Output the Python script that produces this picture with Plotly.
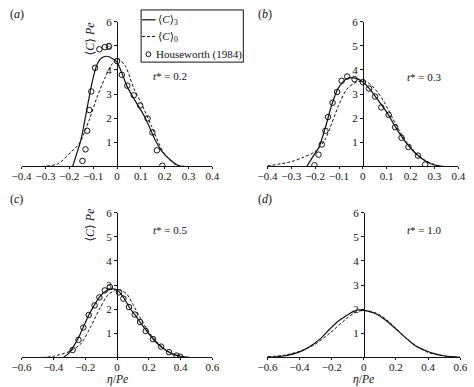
import plotly.graph_objects as go

W, H = 474, 387

# ---------------- data ----------------
# panel (a), t* = 0.2
a_c3_x = [-0.186, -0.17, -0.152, -0.125, -0.105, -0.085, -0.065, -0.042, -0.02, 0.0, 0.02, 0.043, 0.077, 0.117, 0.158, 0.185, 0.225, 0.26, 0.28]
a_c3_y = [0.0, 0.5, 1.07, 2.44, 3.46, 4.2, 4.5, 4.57, 4.48, 4.33, 3.88, 3.3, 2.71, 2.04, 1.14, 0.67, 0.26, 0.03, 0.0]
a_c0_x = [-0.315, -0.246, -0.193, -0.159, -0.118, -0.085, -0.051, -0.024, 0.003, 0.036, 0.07, 0.104, 0.144, 0.198, 0.25, 0.29]
a_c0_y = [0.0, 0.12, 0.6, 0.94, 1.89, 2.84, 3.66, 4.2, 4.48, 4.14, 3.25, 2.57, 1.69, 0.53, 0.05, 0.0]
a_hw_x = [-0.145, -0.132, -0.125, -0.116, -0.108, -0.092, -0.074, -0.051, -0.034, 0.0, 0.02, 0.043, 0.07, 0.097, 0.128, 0.148, 0.167, 0.19]
a_hw_y = [0.23, 0.71, 1.48, 2.34, 3.11, 4.09, 4.86, 4.95, 4.98, 4.37, 3.80, 3.35, 2.95, 2.53, 1.99, 1.41, 0.67, 0.03]

# panel (b), t* = 0.3
b_c3_x = [-0.235, -0.21, -0.184, -0.157, -0.13, -0.103, -0.069, -0.045, -0.02, 0.0, 0.03, 0.06, 0.1, 0.14, 0.18, 0.22, 0.26, 0.3, 0.335]
b_c3_y = [0.0, 0.4, 0.8, 1.62, 2.57, 3.25, 3.63, 3.68, 3.62, 3.5, 3.2, 2.8, 2.25, 1.58, 1.0, 0.55, 0.24, 0.06, 0.0]
b_c0_x = [-0.4, -0.3, -0.25, -0.2, -0.157, -0.13, -0.103, -0.069, -0.035, 0.005, 0.033, 0.06, 0.087, 0.141, 0.18, 0.22, 0.26, 0.3, 0.34]
b_c0_y = [0.02, 0.2, 0.38, 0.62, 1.15, 1.8, 2.5, 3.18, 3.46, 3.55, 3.39, 3.1, 2.71, 1.69, 1.05, 0.58, 0.26, 0.08, 0.0]
b_hw_x = [-0.203, -0.186, -0.172, -0.157, -0.146, -0.127, -0.108, -0.089, -0.066, -0.035, 0.0, 0.026, 0.051, 0.077, 0.108, 0.135, 0.162, 0.191, 0.231, 0.261]
b_hw_y = [0.05, 0.49, 0.91, 1.48, 2.05, 2.64, 3.09, 3.55, 3.73, 3.62, 3.5, 3.23, 2.9, 2.45, 2.14, 1.63, 1.19, 0.81, 0.45, 0.08]

# panel (c), t* = 0.5
c_c3_x = [-0.336, -0.3, -0.27, -0.24, -0.208, -0.178, -0.147, -0.117, -0.087, -0.055, -0.03, 0.0, 0.04, 0.08, 0.12, 0.16, 0.2, 0.25, 0.3, 0.35, 0.4, 0.45]
c_c3_y = [0.0, 0.2, 0.49, 0.85, 1.31, 1.75, 2.12, 2.44, 2.67, 2.8, 2.84, 2.8, 2.5, 2.05, 1.7, 1.33, 0.98, 0.6, 0.33, 0.14, 0.05, 0.01]
c_c0_x = [-0.47, -0.4, -0.3, -0.228, -0.168, -0.107, -0.056, -0.003, 0.03, 0.065, 0.1, 0.15, 0.2, 0.25, 0.3, 0.35, 0.4, 0.46]
c_c0_y = [0.0, 0.05, 0.25, 0.56, 1.24, 2.05, 2.6, 2.8, 2.78, 2.6, 2.2, 1.6, 1.05, 0.65, 0.35, 0.15, 0.05, 0.0]
c_hw_x = [-0.279, -0.242, -0.212, -0.178, -0.141, -0.111, -0.077, -0.045, 0.012, 0.04, 0.075, 0.111, 0.145, 0.18, 0.226, 0.277, 0.327, 0.374, 0.398]
c_hw_y = [0.31, 0.73, 1.24, 1.76, 2.16, 2.49, 2.78, 2.92, 2.7, 2.44, 2.09, 1.78, 1.47, 1.10, 0.76, 0.45, 0.22, 0.08, 0.03]

# panel (d), t* = 1.0
d_c3_x = [-0.6, -0.51, -0.4, -0.31, -0.27, -0.21, -0.16, -0.11, -0.06, -0.03, 0.0, 0.078, 0.14, 0.198, 0.26, 0.318, 0.38, 0.438, 0.5, 0.558, 0.6]
d_c3_y = [0.01, 0.05, 0.23, 0.57, 0.78, 1.19, 1.5, 1.73, 1.92, 1.97, 1.95, 1.8, 1.52, 1.19, 0.82, 0.5, 0.3, 0.16, 0.07, 0.03, 0.01]
d_c0_x = [-0.6, -0.5, -0.4, -0.31, -0.21, -0.11, -0.05, 0.0, 0.05, 0.1, 0.15, 0.2, 0.26, 0.32, 0.4, 0.5, 0.6]
d_c0_y = [0.03, 0.09, 0.25, 0.52, 1.02, 1.6, 1.88, 1.95, 1.9, 1.76, 1.52, 1.2, 0.82, 0.5, 0.21, 0.06, 0.01]

y_ticks = [1, 2, 3, 4, 5, 6]
panel_labels = ["(<i>a</i>)", "(<i>b</i>)", "(<i>c</i>)", "(<i>d</i>)"]
t_labels = ["<i>t</i>* = 0.2", "<i>t</i>* = 0.3", "<i>t</i>* = 0.5", "<i>t</i>* = 1.0"]
legend_names = ["⟨<i>C</i>⟩<sub>3</sub>", "⟨<i>C</i>⟩<sub>0</sub>", "Houseworth (1984)"]

# ---------------- layout helpers ----------------
FONT = "Times New Roman, Liberation Serif, DejaVu Serif, serif"
INK = "#111111"

def px(x):
    return x / W

def py(y):
    return 1 - y / H

panels = [
    dict(xd=[px(12), px(210)], yd=[py(163), py(16)], xr=[-0.4, 0.4], dt=0.1),
    dict(xd=[px(267), px(465)], yd=[py(163), py(16)], xr=[-0.4, 0.4], dt=0.1),
    dict(xd=[px(12), px(210)], yd=[py(357), py(210)], xr=[-0.6, 0.6], dt=0.2),
    dict(xd=[px(267), px(467)], yd=[py(357), py(210)], xr=[-0.6, 0.6], dt=0.2),
]

fig = go.Figure()

series = [
    (a_c3_x, a_c3_y, a_c0_x, a_c0_y, a_hw_x, a_hw_y),
    (b_c3_x, b_c3_y, b_c0_x, b_c0_y, b_hw_x, b_hw_y),
    (c_c3_x, c_c3_y, c_c0_x, c_c0_y, c_hw_x, c_hw_y),
    (d_c3_x, d_c3_y, d_c0_x, d_c0_y, None, None),
]

for i, (x3, y3, x0, y0, xh, yh) in enumerate(series):
    sfx = "" if i == 0 else str(i + 1)
    xa, ya = "x" + sfx, "y" + sfx
    fig.add_trace(go.Scatter(x=x0, y=y0, xaxis=xa, yaxis=ya, mode="lines",
                             line=dict(color=INK, width=1, dash="3px,2px", shape="spline", smoothing=0.8),
                             name=legend_names[1], showlegend=False))
    fig.add_trace(go.Scatter(x=x3, y=y3, xaxis=xa, yaxis=ya, mode="lines",
                             line=dict(color=INK, width=1.2, shape="spline", smoothing=0.8),
                             name=legend_names[0], showlegend=False))
    if xh is not None:
        fig.add_trace(go.Scatter(x=xh, y=yh, xaxis=xa, yaxis=ya, mode="markers",
                                 marker=dict(symbol="circle-open", size=5.5, color=INK, line=dict(width=1)),
                                 name=legend_names[2], showlegend=False))

layout = dict(
    width=W, height=H, margin=dict(l=0, r=0, t=0, b=0),
    paper_bgcolor="white", plot_bgcolor="white",
    font=dict(family=FONT, size=11, color=INK),
    showlegend=False,
)

for i, p in enumerate(panels):
    sfx = "" if i == 0 else str(i + 1)
    xname, yname = "xaxis" + sfx, "yaxis" + sfx
    yref = "y" + sfx
    layout[xname] = dict(domain=p["xd"], range=p["xr"], anchor=yref, dtick=p["dt"], tick0=0,
                         showline=True, linecolor=INK, linewidth=1, ticks="outside", ticklen=2,
                         ticklabelstandoff=-3,
                         tickcolor=INK, showgrid=False, zeroline=False, fixedrange=True,
                         tickfont=dict(family=FONT, size=11, color=INK))
    layout[yname] = dict(domain=p["yd"], range=[0, 6], anchor="free",
                         position=(p["xd"][0] + p["xd"][1]) / 2,
                         tickvals=y_ticks, showline=True, linecolor=INK, linewidth=1,
                         ticks="outside", ticklen=3, tickcolor=INK, showgrid=False,
                         zeroline=False, fixedrange=True,
                         tickfont=dict(family=FONT, size=11, color=INK))

fig.update_layout(**layout)

ann = []
# panel letters
for (lx, ly), t in zip([(7, 8), (264, 8), (7, 196), (264, 196)], panel_labels):
    ann.append(dict(x=px(lx), y=py(ly), xref="paper", yref="paper", text=t, showarrow=False,
                    font=dict(family=FONT, size=12, color=INK), xanchor="center", yanchor="middle"))
# t* labels
for (lx, ly), t in zip([(166, 71), (430, 72), (166, 228), (430, 228)], t_labels):
    ann.append(dict(x=px(lx), y=py(ly), xref="paper", yref="paper", text=t, showarrow=False,
                    font=dict(family=FONT, size=11, color=INK), xanchor="center", yanchor="middle"))
# y titles
for ly in (33, 222):
    ann.append(dict(x=px(83), y=py(ly), xref="paper", yref="paper", text="⟨<i>C</i>⟩ <i>Pe</i>",
                    textangle=-90, showarrow=False, font=dict(family=FONT, size=12, color=INK),
                    xanchor="center", yanchor="middle"))
# x titles
for lx in (111, 367):
    ann.append(dict(x=px(lx), y=py(387.5), xref="paper", yref="paper", text="<i>η</i>/<i>Pe</i>",
                    showarrow=False, font=dict(family=FONT, size=11.5, color=INK), borderpad=0,
                    xanchor="center", yanchor="bottom"))
# legend texts
ann.append(dict(x=px(151), y=py(14), xref="paper", yref="paper", text=legend_names[0], showarrow=False,
                font=dict(family=FONT, size=11, color=INK), xanchor="left", yanchor="middle"))
ann.append(dict(x=px(151), y=py(31), xref="paper", yref="paper", text=legend_names[1], showarrow=False,
                font=dict(family=FONT, size=11, color=INK), xanchor="left", yanchor="middle"))
ann.append(dict(x=px(149), y=py(49), xref="paper", yref="paper", text=legend_names[2], showarrow=False,
                font=dict(family=FONT, size=11, color=INK), xanchor="left", yanchor="middle"))

shapes = [
    dict(type="rect", xref="paper", yref="paper", x0=px(136), x1=px(242), y0=py(57), y1=py(4),
         line=dict(color=INK, width=1), fillcolor="rgba(0,0,0,0)"),
    dict(type="line", xref="paper", yref="paper", x0=px(137), x1=px(151), y0=py(14), y1=py(14),
         line=dict(color=INK, width=1.2)),
    dict(type="line", xref="paper", yref="paper", x0=px(137), x1=px(151), y0=py(31), y1=py(31),
         line=dict(color=INK, width=1, dash="3px,2px")),
    dict(type="circle", xref="paper", yref="paper", x0=px(141), x1=px(146), y0=py(51.5), y1=py(46.5),
         line=dict(color=INK, width=1)),
]

fig.update_layout(annotations=ann, shapes=shapes)
fig.write_html("out.html", config={"displayModeBar": False},
               post_script="document.body.style.margin='0';document.body.style.overflow='hidden';")
